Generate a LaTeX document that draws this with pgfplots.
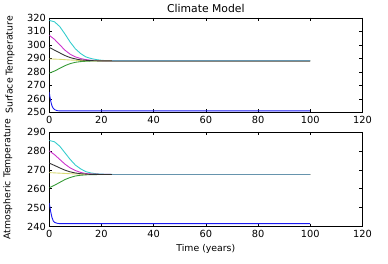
\documentclass[border=0pt]{standalone}
\usepackage{fontspec}
\setmainfont{DejaVu Sans}
\usepackage{pgfplots}
\pgfplotsset{compat=1.18}
\definecolor{mplc}{rgb}{0.2,0.8,0.8}
\definecolor{mplm}{rgb}{0.8,0.2,0.8}
\definecolor{mply}{rgb}{0.85,0.85,0.45}
\definecolor{mplg}{rgb}{0.2,0.6,0.2}
\definecolor{mplk}{rgb}{0.2,0.2,0.2}
\definecolor{mplb}{rgb}{0.1,0.1,0.95}
\definecolor{steady}{rgb}{0.4,0.58,0.68}
\begin{document}
\begin{tikzpicture}
\path (0bp,0bp) rectangle (388bp,268bp);
\pgfplotsset{
  mpl/.style={
    scale only axis, width=318bp, height=96bp,
    xmin=0, xmax=120, xtick={0,20,...,120},
    tick align=inside, tick style={black, thin},
    major tick length=3bp,
    axis line style={black, thin},
    tick label style={font=\fontsize{10}{11}\selectfont},
    label style={font=\fontsize{9.5}{10}\selectfont},
    /pgf/number format/assume math mode=true,
    every axis plot/.append style={line width=0.9pt, no marks},
  }
}
% top: surface temperature
\begin{axis}[mpl, at={(44bp,154bp)}, anchor=south west,
  ymin=250, ymax=320, ytick={250,260,...,320},
  ylabel={Surface Temperature}, ylabel style={at={(axis description cs:-0.1,0.5)}},
  title={Climate Model}, title style={font=\fontsize{11}{12}\selectfont, yshift=-4bp}]
\addplot[color=mplb] coordinates {(0,265) (0.3,261) (0.6,258) (1,255) (1.5,253) (2,252) (3,251.2) (4,251) (10,251) (100,251)};
\addplot[color=mplg] coordinates {(0,279) (2,280.5) (4,282.5) (6,284.5) (8,286) (10,287) (12,287.5) (15,287.9) (20,288) (100,288)};
\addplot[color=mplc] coordinates {(0,318) (2,317) (4,313.5) (6,308) (8,302) (10,297) (12,293.5) (14,291) (16,289.8) (18,289) (20,288.5) (22,288.2) (25,288) (100,288)};
\addplot[color=mplm] coordinates {(0,307) (2,304) (4,300) (6,296) (8,293) (10,291) (12,289.8) (14,289) (16,288.5) (20,288.1) (25,288) (100,288)};
\addplot[color=mply] coordinates {(0,289.5) (4,289.2) (8,288.7) (12,288.3) (16,288.1) (20,288) (100,288)};
\addplot[color=mplk] coordinates {(0,298) (2,296) (4,294) (6,292) (8,290.5) (10,289.5) (12,288.8) (15,288.3) (20,288) (100,288)};
\addplot[color=steady] coordinates {(24,288) (100,288)};
\end{axis}
% bottom: atmospheric temperature
\begin{axis}[mpl, at={(44bp,38bp)}, anchor=south west,
  ymin=240, ymax=290, ytick={240,250,...,290},
  ylabel={Atmospheric Temperature}, ylabel style={at={(axis description cs:-0.107,0.5)}},
  xlabel={Time (years)}]
\addplot[color=mplb] coordinates {(0,252.5) (0.3,250) (0.6,247.5) (1,245) (1.5,243) (2,242.2) (3,241.7) (4,241.5) (10,241.5) (100,241.5)};
\addplot[color=mplg] coordinates {(0,260.5) (2,261.8) (4,263.3) (6,264.8) (8,265.9) (10,266.7) (12,267.1) (15,267.4) (20,267.5) (100,267.5)};
\addplot[color=mplc] coordinates {(0,285.5) (2,284.8) (4,282.5) (6,279) (8,275.5) (10,272.5) (12,270.5) (14,269) (16,268.3) (18,267.9) (20,267.7) (22,267.6) (25,267.5) (100,267.5)};
\addplot[color=mplm] coordinates {(0,280) (2,278) (4,275.5) (6,273) (8,271) (10,269.6) (12,268.6) (14,268) (16,267.8) (20,267.6) (25,267.5) (100,267.5)};
\addplot[color=mply] coordinates {(0,268.5) (4,268.2) (8,267.9) (12,267.7) (16,267.6) (20,267.5) (100,267.5)};
\addplot[color=mplk] coordinates {(0,273.5) (2,272.3) (4,271) (6,269.8) (8,268.9) (10,268.3) (12,267.9) (15,267.6) (20,267.5) (100,267.5)};
\addplot[color=steady] coordinates {(24,267.5) (100,267.5)};
\end{axis}
\end{tikzpicture}
\end{document}
